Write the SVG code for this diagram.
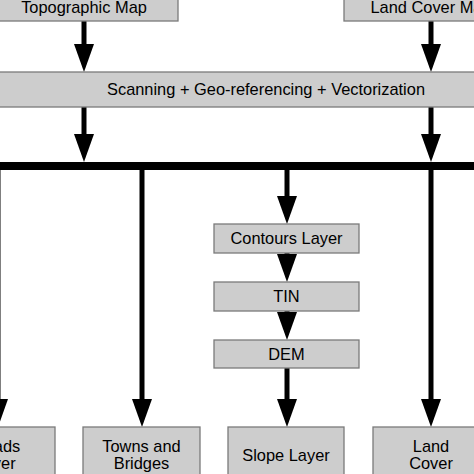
<svg xmlns="http://www.w3.org/2000/svg" width="474" height="474" viewBox="0 0 474 474">
<style>
.box{fill:#cdcdcd;stroke:#7a7a7a;stroke-width:1.3}
.t{font-family:"Liberation Sans",Arial,sans-serif;font-size:16.4px;fill:#000;text-anchor:middle}
.c{stroke:#000;stroke-width:5;fill:none}
.a{stroke:#000;stroke-width:5;fill:none;marker-end:url(#ah)}
</style>
<defs>
<marker id="ah" markerUnits="userSpaceOnUse" markerWidth="28" markerHeight="20" viewBox="0 0 28 20" refX="1" refY="10" orient="auto">
<path d="M0,0 L28,10 L0,20 z" fill="#000"/>
</marker>
</defs>
<rect x="0" y="0" width="474" height="474" fill="#fff"/>
<g id="connectors">
<line class="a" x1="84" y1="21" x2="84" y2="45"/>
<line class="a" x1="431" y1="21" x2="431" y2="45"/>
<line class="a" x1="84" y1="107" x2="84" y2="135"/>
<line class="a" x1="431" y1="107" x2="431" y2="135"/>
<line x1="-5" y1="166" x2="480" y2="166" stroke="#000" stroke-width="8"/>
<line class="a" x1="287" y1="166" x2="287" y2="197"/>
<line class="a" x1="287" y1="253" x2="287" y2="255"/>
<line class="a" x1="287" y1="311" x2="287" y2="313"/>
<line class="a" x1="287" y1="368" x2="287" y2="400"/>
<line class="a" x1="142" y1="166" x2="142" y2="400"/>
<line class="a" x1="431" y1="166" x2="431" y2="400"/>
<line class="a" x1="-2" y1="166" x2="-2" y2="400"/>
</g>
<g id="topographic-map">
<rect class="box" x="-10" y="-20" width="188" height="41"/>
<text class="t" x="84" y="13">Topographic Map</text>
</g>
<g id="land-cover-map">
<rect class="box" x="344" y="-20" width="174" height="41"/>
<text class="t" x="431" y="13">Land Cover Map</text>
</g>
<g id="scanning">
<rect class="box" x="-10" y="72" width="550" height="35"/>
<text class="t" x="266" y="95">Scanning + Geo-referencing + Vectorization</text>
</g>
<g id="contours">
<rect class="box" x="214" y="224" width="145" height="29"/>
<text class="t" x="286.5" y="244">Contours Layer</text>
</g>
<g id="tin">
<rect class="box" x="214" y="282" width="145" height="29"/>
<text class="t" x="286.5" y="302">TIN</text>
</g>
<g id="dem">
<rect class="box" x="214" y="340" width="145" height="28"/>
<text class="t" x="286.5" y="360">DEM</text>
</g>
<g id="roads">
<rect class="box" x="-62" y="427" width="117" height="60"/>
<text class="t" x="-3.5" y="452">Roads</text>
<text class="t" x="-3.5" y="469">River</text>
</g>
<g id="towns">
<rect class="box" x="83" y="427" width="117" height="60"/>
<text class="t" x="141.5" y="452">Towns and</text>
<text class="t" x="141.5" y="469">Bridges</text>
</g>
<g id="slope">
<rect class="box" x="228" y="427" width="116" height="60"/>
<text class="t" x="286" y="461">Slope Layer</text>
</g>
<g id="land-cover">
<rect class="box" x="373" y="427" width="117" height="60"/>
<text class="t" x="431" y="452">Land</text>
<text class="t" x="431" y="469">Cover</text>
</g>
</svg>
